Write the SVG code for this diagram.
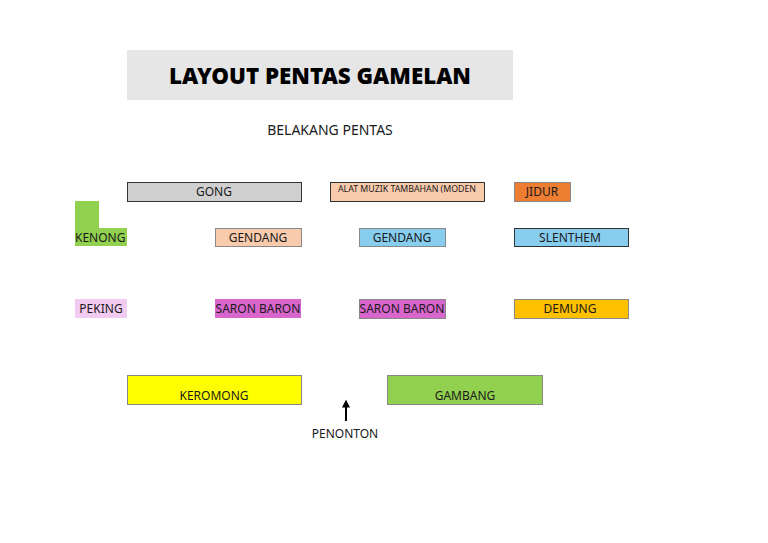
<svg xmlns="http://www.w3.org/2000/svg" width="768" height="543" viewBox="0 0 768 543">
<style>
text{font-family:"Noto Sans","Liberation Sans",sans-serif;fill:#1a1a1a;font-size:12px}
.c{text-anchor:middle}
.s{stroke:#333;stroke-width:1}
.g{stroke:#888;stroke-width:1}
</style>
<defs>
<marker id="ah" viewBox="0 0 10 10" refX="2" refY="5" markerWidth="4" markerHeight="4" orient="auto">
<path d="M0,0 L10,5 L0,10 z" fill="#000"/>
</marker>
</defs>
<rect width="768" height="543" fill="#fff"/>
<g id="title">
<rect x="127" y="50" width="386" height="50" fill="#e6e6e6"/>
<text x="320" y="84" class="c" textLength="302" lengthAdjust="spacingAndGlyphs" style="font-size:23px;font-weight:900;fill:#000">LAYOUT PENTAS GAMELAN</text>
</g>
<g id="belakang"><text x="330" y="135" class="c" style="font-size:14px">BELAKANG PENTAS</text></g>
<g id="gong"><rect x="127.5" y="182.5" width="174" height="19" fill="#d0d0d0" class="s"/><text x="214" y="196" class="c">GONG</text></g>
<g id="alat"><rect x="330.5" y="182.5" width="154" height="19" fill="#f8cbad" class="s"/><text x="338" y="192" textLength="138" lengthAdjust="spacingAndGlyphs" style="font-size:9.5px">ALAT MUZIK TAMBAHAN (MODEN</text></g>
<g id="jidur"><rect x="514.5" y="182.5" width="56" height="19" fill="#ed7d31" class="g"/><text x="542" y="196" class="c">JIDUR</text></g>
<g id="kenong"><path d="M75,201 H99 V228 H127 V246 H75 Z" fill="#92d050"/><text x="75" y="242">KENONG</text></g>
<g id="gendang1"><rect x="215.5" y="228.5" width="86" height="18" fill="#f8cbad" class="g"/><text x="258" y="242" class="c">GENDANG</text></g>
<g id="gendang2"><rect x="359.5" y="228.5" width="86" height="18" fill="#87cdee" class="g"/><text x="402" y="242" class="c">GENDANG</text></g>
<g id="slenthem"><rect x="514.5" y="228.5" width="114" height="18" fill="#87cdee" class="s"/><text x="570" y="242" class="c">SLENTHEM</text></g>
<g id="peking"><rect x="75" y="299" width="52" height="19" fill="#f2ccf0"/><text x="101" y="313" class="c">PEKING</text></g>
<g id="saron1"><rect x="215" y="299" width="86" height="19" fill="#d966cc"/><text x="258" y="313" class="c">SARON BARON</text></g>
<g id="saron2"><rect x="359.5" y="299.5" width="86" height="19" fill="#d966cc" class="g"/><text x="402" y="313" class="c">SARON BARON</text></g>
<g id="demung"><rect x="514.5" y="299.5" width="114" height="19" fill="#ffc000" class="g"/><text x="570" y="313" class="c">DEMUNG</text></g>
<g id="keromong"><rect x="127.5" y="375.5" width="174" height="29" fill="#ffff00" class="g"/><text x="214" y="400" class="c">KEROMONG</text></g>
<g id="gambang"><rect x="387.5" y="375.5" width="155" height="29" fill="#92d050" class="g"/><text x="465" y="400" class="c">GAMBANG</text></g>
<g id="connectors"><line x1="346" y1="421" x2="346" y2="406" stroke="#000" stroke-width="2" marker-end="url(#ah)"/></g>
<g id="penonton"><text x="345" y="438" class="c">PENONTON</text></g>
</svg>
